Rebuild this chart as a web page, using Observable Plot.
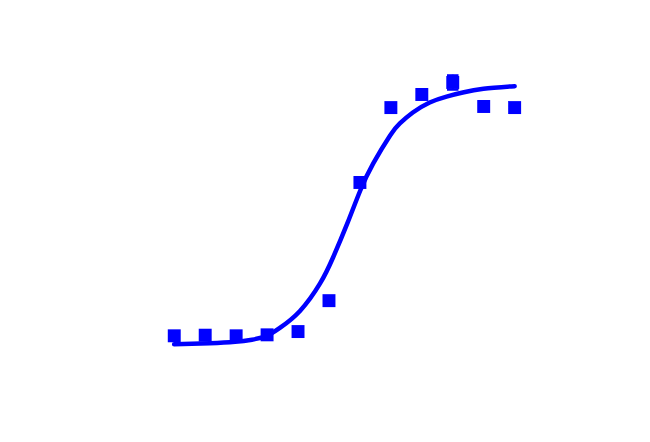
<!DOCTYPE html>
<html>
<head>
<meta charset="utf-8">
<script src="https://cdn.jsdelivr.net/npm/d3@7"></script>
<script src="https://cdn.jsdelivr.net/npm/@observablehq/plot@0.6"></script>
<style>
  html, body { margin: 0; padding: 0; background: #ffffff; }
  #chart { width: 650px; height: 442px; }
</style>
</head>
<body>
<div id="chart"></div>
<script>
// Measured points: 3-fold dilution series (M)
const conc = [5.645e-12, 1.694e-11, 5.081e-11, 1.524e-10, 4.572e-10, 1.372e-9, 4.115e-9, 1.235e-8, 3.704e-8, 1.111e-7, 3.333e-7, 1e-6];
const response = [80, 85, 80, 88, 115, 370, 1345, 1963, 2071, 2170, 1972, 1963];
const errorBar = [0, 0, 0, 0, 0, 0, 28, 30, 25, 60, 0, 12];

// Fitted curve (log10 of concentration, response)
const curveLogConc = [-11.25, -10.7, -10.31, -10.05, -9.83, -9.62, -9.31, -9.0, -8.8, -8.58, -8.38, -8.18, -7.92, -7.77, -7.57, -7.31, -7.05, -6.8, -6.48, -6.0];
const curveResponse = [10, 18, 30, 48, 78, 145, 285, 512, 726, 1007, 1279, 1502, 1733, 1832, 1922, 2005, 2054, 2087, 2118, 2140];

const xTicks = [1e-12, 1e-11, 1e-10, 1e-9, 1e-8, 1e-7, 1e-6, 1e-5];
const yTicks = [0, 500, 1000, 1500, 2000, 2500];
const xLabel = "Complement C5a, M";
const yLabel = "RLU";

const sup = {"-": "\u207B", "0": "\u2070", "1": "\u00B9", "2": "\u00B2", "3": "\u00B3", "4": "\u2074", "5": "\u2075", "6": "\u2076", "7": "\u2077", "8": "\u2078", "9": "\u2079"};
const fmtPow = d => "10" + String(Math.round(Math.log10(d))).split("").map(c => sup[c]).join("");

const points = conc.map((c, i) => ({c, y: response[i], lo: response[i] - errorBar[i], hi: response[i] + errorBar[i], e: errorBar[i]}));
const curve = curveLogConc.map((l, i) => ({c: Math.pow(10, l), y: curveResponse[i]}));
const bars = points.filter(d => d.e > 0);

const capSymbol = {
  draw(context, size) {
    const w = Math.sqrt(size) / 2;
    context.moveTo(-w, 0);
    context.lineTo(w, 0);
  }
};

const blue = "#0000ff";
const white = "#ffffff";

const chart = Plot.plot({
  width: 650,
  height: 442,
  marginTop: 42,
  marginBottom: 97,
  marginLeft: 125,
  marginRight: 71,
  style: {background: white, fontFamily: "'Liberation Sans', Arial, sans-serif", fontSize: "21px", color: white},
  x: {type: "log", domain: [1e-12, 1e-5], ticks: xTicks, tickFormat: fmtPow, label: null},
  y: {domain: [0, 2500], ticks: yTicks, tickFormat: d => String(d), label: null},
  marks: [
    Plot.axisX({ticks: xTicks, tickFormat: fmtPow, tickSize: 6, tickPadding: 8, stroke: white, fill: white, fontSize: 21, label: null}),
    Plot.axisY({ticks: yTicks, tickSize: 6, tickPadding: 8, stroke: white, fill: white, fontSize: 21, label: null}),
    Plot.ruleY([0], {stroke: white, strokeWidth: 2}),
    Plot.ruleX([1e-12], {stroke: white, strokeWidth: 2}),
    Plot.line(curve, {x: "c", y: "y", stroke: blue, strokeWidth: 4.5, curve: "natural"}),
    Plot.ruleX(bars, {x: "c", y1: "lo", y2: "hi", stroke: blue, strokeWidth: 2}),
    Plot.dot(bars, {x: "c", y: "hi", symbol: capSymbol, r: 6.5, stroke: blue, strokeWidth: 2, fill: "none"}),
    Plot.dot(bars, {x: "c", y: "lo", symbol: capSymbol, r: 6.5, stroke: blue, strokeWidth: 2, fill: "none"}),
    Plot.dot(points, {x: "c", y: "y", symbol: "square", r: 7.3, fill: blue, stroke: "none"}),
    Plot.text([xLabel], {frameAnchor: "bottom", dy: 54, fill: white, fontSize: 22, text: d => d}),
    Plot.text([yLabel], {frameAnchor: "left", dx: -95, dy: -20, rotate: -90, fill: white, fontSize: 22, text: d => d})
  ]
});

document.getElementById("chart").appendChild(chart);
</script>
</body>
</html>
